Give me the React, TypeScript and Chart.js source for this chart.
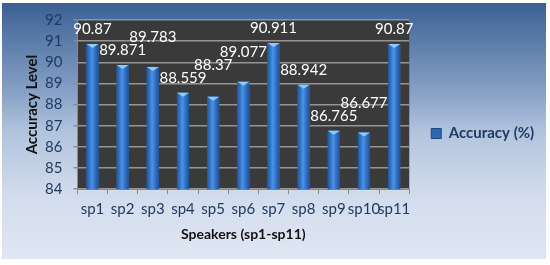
import React, { useEffect, useRef } from "react";
import { Chart, registerables } from "chart.js";

Chart.register(...registerables);

const categories = ["sp1", "sp2", "sp3", "sp4", "sp5", "sp6", "sp7", "sp8", "sp9", "sp10", "sp11"];
const accuracy = [90.87, 89.871, 89.783, 88.559, 88.37, 89.077, 90.911, 88.942, 86.765, 86.677, 90.87];
const labels = ["90.87", "89.871", "89.783", "88.559", "88.37", "89.077", "90.911", "88.942", "86.765", "86.677", "90.87"];
const yTicks = [84, 85, 86, 87, 88, 89, 90, 91, 92];
const seriesName = "Accuracy (%)";
const yTitle = "Accuracy Level";
const xTitle = "Speakers (sp1-sp11)";

const FONT = "Lato, 'Open Sans', sans-serif";

const backgroundPlugin = {
  id: "bgPanel",
  beforeDraw(chart: any) {
    const { ctx, width, height, chartArea } = chart;
    ctx.save();
    ctx.fillStyle = "#ffffff";
    ctx.fillRect(0, 0, width, height);
    const x0 = 2, y0 = 3, x1 = width - 4, y1 = height - 6;
    const g = ctx.createLinearGradient(0, y0, 0, y1);
    g.addColorStop(0, "#3a6194");
    g.addColorStop(0.35, "#87a1c6");
    g.addColorStop(0.5, "#b1c3dd");
    g.addColorStop(0.75, "#d2dcec");
    g.addColorStop(1, "#e0e7f3");
    ctx.fillStyle = g;
    ctx.fillRect(x0, y0, x1 - x0, y1 - y0);
    ctx.fillStyle = "#3a3a3a";
    ctx.fillRect(chartArea.left, chartArea.top, chartArea.right - chartArea.left, chartArea.bottom - chartArea.top);
    ctx.restore();
  },
};

const barStylePlugin = {
  id: "barStyle",
  afterDatasetsDraw(chart: any) {
    const { ctx, chartArea } = chart;
    const meta = chart.getDatasetMeta(0);
    ctx.save();
    meta.data.forEach((el: any) => {
      const w = el.width;
      const left = el.x - w / 2;
      const bottom = Math.min(el.base, chartArea.bottom);
      const g = ctx.createLinearGradient(left, 0, left + w, 0);
      g.addColorStop(0, "#1e54a0");
      g.addColorStop(0.45, "#4c92e4");
      g.addColorStop(0.6, "#3a7ed6");
      g.addColorStop(1, "#1d4f98");
      ctx.fillStyle = g;
      ctx.fillRect(left, el.y, w, bottom - el.y);
      ctx.fillStyle = "#8ccaf7";
      ctx.beginPath();
      ctx.moveTo(left, el.y);
      ctx.lineTo(left + w, el.y);
      ctx.lineTo(el.x, el.y + 4);
      ctx.closePath();
      ctx.fill();
    });
    ctx.font = "15px " + FONT;
    ctx.fillStyle = "#ffffff";
    ctx.textAlign = "center";
    ctx.textBaseline = "alphabetic";
    let prev: any = null;
    meta.data.forEach((el: any, i: number) => {
      const txt = labels[i];
      const tw = ctx.measureText(txt).width;
      let base = el.y - 10;
      const h = 11;
      const box = { l: el.x - tw / 2, r: el.x + tw / 2, t: base - h, b: base };
      if (prev && box.l < prev.r - 6 && box.r > prev.l && box.t < prev.b && box.b > prev.t) {
        base = prev.t - 2;
        box.b = base;
        box.t = base - h;
      }
      ctx.fillText(txt, el.x, base);
      prev = box;
    });
    ctx.restore();
  },
};

export default function App() {
  const ref = useRef<HTMLCanvasElement | null>(null);
  useEffect(() => {
    if (!ref.current) return;
    const chart = new Chart(ref.current, {
      type: "bar",
      data: {
        labels: categories,
        datasets: [
          {
            label: seriesName,
            data: accuracy,
            backgroundColor: "#3a78c4",
            borderWidth: 0,
            barPercentage: 0.4,
            categoryPercentage: 1,
          },
        ],
      },
      options: {
        responsive: false,
        animation: false,
        devicePixelRatio: 1,
        layout: { padding: { left: 23, right: 12, top: 20, bottom: 18 } },
        plugins: {
          legend: {
            position: "right",
            labels: {
              font: { family: FONT, size: 15, weight: "bold" },
              color: "#1f3a63",
              boxWidth: 10,
              boxHeight: 10,
              padding: 22,
              generateLabels: () => [
                {
                  text: seriesName,
                  fillStyle: "#2f68b0",
                  strokeStyle: "#1c4680",
                  lineWidth: 1,
                  fontColor: "#1f3a63",
                  datasetIndex: 0,
                } as any,
              ],
            },
          },
          tooltip: { enabled: false },
        },
        scales: {
          x: {
            grid: { display: true, drawOnChartArea: false, drawTicks: true, tickLength: 5, color: "#8c8c8c" },
            border: { color: "#8c8c8c", width: 1 },
            ticks: { font: { family: FONT, size: 15 }, color: "#1f3a63", padding: 6, maxRotation: 0, minRotation: 0, autoSkip: false },
            title: { display: true, text: xTitle, font: { family: FONT, size: 14, weight: "bold" }, color: "#111111", padding: { top: 2 } },
          },
          y: {
            min: 84,
            max: 92,
            afterBuildTicks: (axis: any) => {
              axis.ticks = yTicks.map((v) => ({ value: v }));
            },
            ticks: { autoSkip: false, font: { family: FONT, size: 15 }, color: "#1f3a63", padding: 11 },
            grid: { color: "#959595", lineWidth: 1.5, tickLength: 4, tickColor: "#8c8c8c" },
            border: { color: "#8c8c8c" },
            title: { display: true, text: yTitle, font: { family: FONT, size: 15, weight: "bold" }, color: "#111111", padding: { top: 0, bottom: -7 } },
          },
        },
      },
      plugins: [backgroundPlugin, barStylePlugin],
    });
    return () => chart.destroy();
  }, []);
  return (
    <div style={{ position: "fixed", left: 0, top: 0, width: 550, height: 265 }}>
      <canvas ref={ref} width={550} height={265} style={{ display: "block" }} />
    </div>
  );
}
